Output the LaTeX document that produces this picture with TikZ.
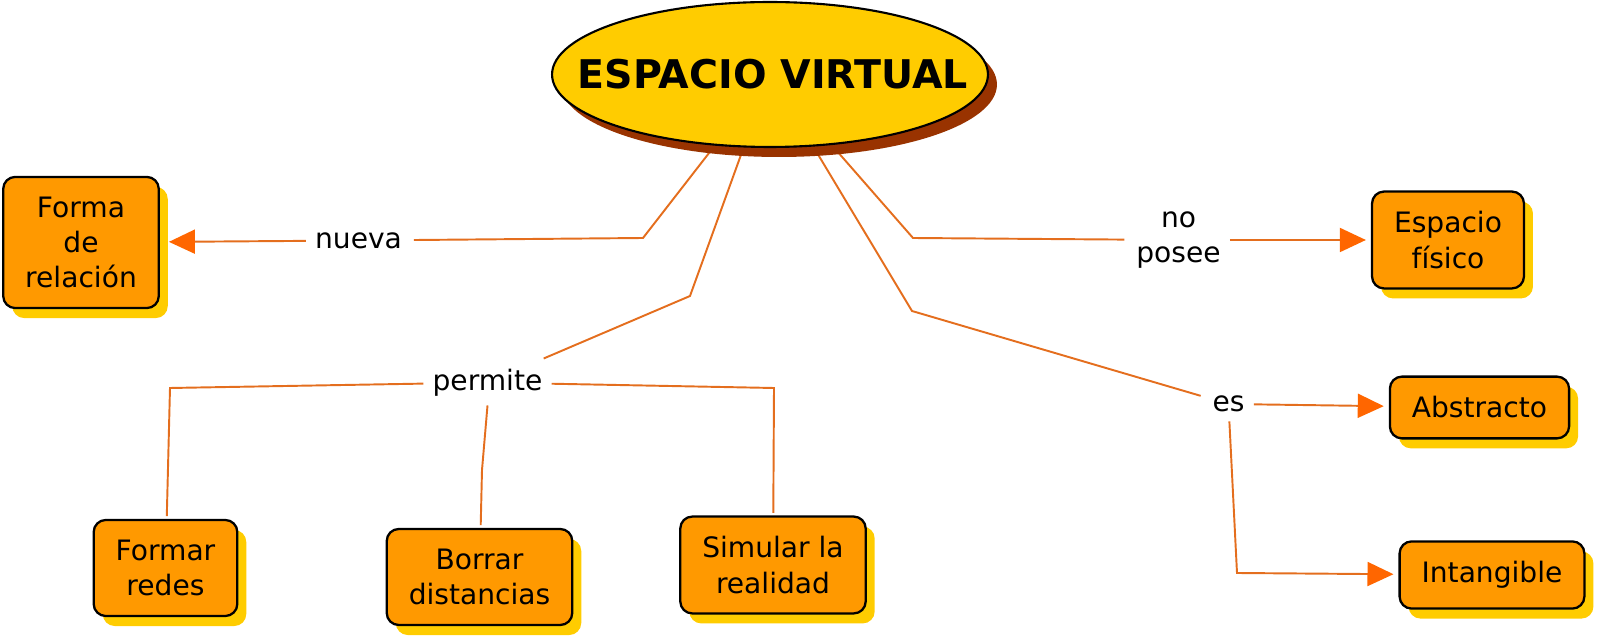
\documentclass[tikz,border=0pt]{standalone}
\usepackage{fontspec}
\setmainfont{DejaVu Sans}
\newfontfamily\titlefont{DejaVu Sans}
\usepackage{tikz}
\usetikzlibrary{
        arrows.meta,
        backgrounds,
        shadows,
        shapes.geometric
    }
\definecolor{boxorange}{RGB}{255,153,0}
\definecolor{shadowyellow}{RGB}{255,204,0}
\definecolor{ellipseyellow}{RGB}{255,204,0}
\definecolor{ellipsebrown}{RGB}{153,51,0}
\definecolor{linkorange}{RGB}{228,110,30}
\definecolor{tiporange}{RGB}{255,102,0}
\tikzset{>={Triangle[length=0.52cm,width=0.48cm,color=tiporange]},shorten >=1.5pt}
\tikzset{
    concept/.style={draw=black, line width=1.3pt, fill=boxorange,
        rounded corners=0.24cm, align=center, inner xsep=0.44cm, inner ysep=0.4cm,
        font=\fontsize{16}{20}\selectfont,
        drop shadow={shadow xshift=0.18cm, shadow yshift=-0.2cm, fill=shadowyellow, opacity=1}},
    mainconcept/.style={ellipse, draw=black, line width=1.2pt, fill=ellipseyellow,
        minimum width=8.72cm, minimum height=2.9cm, inner sep=0pt,
        drop shadow={shadow xshift=0.18cm, shadow yshift=-0.2cm, fill=ellipsebrown, opacity=1}},
    titletext/.style={font=\titlefont\bfseries\fontsize{22.5}{26}\selectfont, xshift=0.06cm},
    linkword/.style={inner sep=0.18cm, align=center, font=\fontsize{16}{20}\selectfont},
    link/.style={draw=linkorange, line width=1.1pt},
    arrowto/.style={link, ->, shorten >=0.1cm}
}

\begin{document}
\begin{tikzpicture}[x=0.02cm, y=-0.02cm]
    \useasboundingbox (0,0) rectangle (1600,641);
    % concepts
    \node[mainconcept, label={[titletext]center:ESPACIO VIRTUAL}] (ev) at (770,74.5) {};
    \node[concept] (forma)      at (81,242.5)   {Forma\\de\\relación};
    \node[concept] (espacio)    at (1448,240)   {Espacio\\físico};
    \node[concept] (abstracto)  at (1479.5,407.5) {Abstracto};
    \node[concept] (intangible) at (1492,575)   {Intangible};
    \node[concept] (formar)     at (165.5,568)  {Formar\\redes};
    \node[concept] (borrar)     at (479.5,577)  {Borrar\\distancias};
    \node[concept] (simular)    at (773,565)    {Simular la\\realidad};
    % linking words
    \node[linkword] (nueva)   at (358.5,240.5) {nueva};
    \node[linkword] (permite) at (487.5,382.5) {permite};
    \node[linkword] (noposee) at (1178.5,240)  {no\\posee};
    \node[linkword] (es)      at (1228.5,404)  {es};
    % bends
    \coordinate (nb)  at (643,238);
    \coordinate (pb)  at (690,296);
    \coordinate (npb) at (913,238);
    \coordinate (eb)  at (912,311);
    \coordinate (pf)  at (170,388);
    \coordinate (pbb) at (482,470);
    \coordinate (ps)  at (774,388);
    \coordinate (ei)  at (1237,573);
    \begin{scope}[on background layer]
        \draw[link] (ev) -- (nb) -- (nueva);
        \draw[arrowto, shorten >=0.18cm] (nueva) -- (forma);
        \draw[link] (ev) -- (pb) -- (permite);
        \draw[link] (permite) -- (pf) -- (formar);
        \draw[link] (permite.south) -- (pbb) -- (borrar);
        \draw[link] (permite) -- (ps) -- (simular);
        \draw[link] (ev) -- (npb) -- (noposee);
        \draw[arrowto] (noposee) -- (espacio);
        \draw[link] (ev) -- (eb) -- (es);
        \draw[arrowto] (es) -- (abstracto);
        \draw[arrowto] (es) -- (ei) -- (intangible);
    \end{scope}
\end{tikzpicture}
\end{document}
